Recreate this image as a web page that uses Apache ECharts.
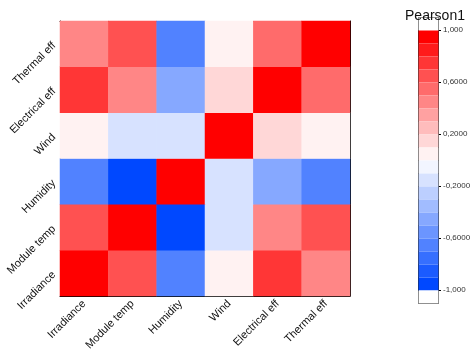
<!DOCTYPE html>
<html>
<head>
<meta charset="utf-8">
<script src="https://cdn.jsdelivr.net/npm/echarts@6/dist/echarts.min.js"></script>
<style>
  html, body { margin: 0; padding: 0; background: #fff; }
  #chart { width: 474px; height: 353px; }
</style>
</head>
<body>
<div id="chart"></div>
<script>
// variables, bottom to top on y and left to right on x
const vars = ['Irradiance', 'Module temp', 'Humidity', 'Wind', 'Electrical eff', 'Thermal eff']

// correlation rows, same order as vars
const rIrradiance = [1.00, 0.65, -0.65, 0.08, 0.78, 0.45]
const rModuleTemp = [0.65, 1.00, -0.95, -0.15, 0.45, 0.65]
const rHumidity = [-0.65, -0.95, 1.00, -0.15, -0.45, -0.65]
const rWind = [0.08, -0.15, -0.15, 1.00, 0.15, 0.03]
const rElecEff = [0.78, 0.45, -0.45, 0.15, 1.00, 0.55]
const rThermEff = [0.45, 0.65, -0.65, 0.03, 0.55, 1.00]

const rows = [rIrradiance, rModuleTemp, rHumidity, rWind, rElecEff, rThermEff]

// colour bar tick labels, bottom to top
const barLabels = ['-1,000', '-0,6000', '-0,2000', '0,2000', '0,6000', '1,000']

const cells = []
rows.forEach((row, yi) => {
  row.forEach((v, xi) => cells.push([xi, yi, v]))
})

// stepped red-white-blue scale, 20 bins of 0.1
function lerp(a, b, t) {
  return a.map((c, i) => Math.round(c + (b[i] - c) * t))
}
const blue = [0, 72, 255]
const white = [255, 255, 255]
const red = [255, 0, 0]
const pieces = [{ lt: -1, color: '#fff' }]
for (let i = 0; i < 20; i++) {
  const t = i / 19
  const c = t < 0.5 ? lerp(blue, white, t * 2) : lerp(white, red, (t - 0.5) * 2)
  const lo = Math.round((-1 + i * 0.1) * 10) / 10
  const p = { gte: lo, color: 'rgb(' + c.join(',') + ')' }
  if (i === 19) p.lte = 1
  else p.lt = Math.round((lo + 0.1) * 10) / 10
  pieces.push(p)
}
pieces.push({ gt: 1, color: '#fff' })

const font = 'Arial, "Liberation Sans", sans-serif'

const chart = echarts.init(document.getElementById('chart'))
chart.setOption({
  animation: false,
  title: {
    text: 'Pearson1',
    left: 430,
    top: 4,
    textAlign: 'center',
    textStyle: { fontFamily: font, fontSize: 14, fontWeight: 'normal', color: '#111' }
  },
  grid: [
    { left: 60, top: 21, width: 290, height: 277 },
    { left: 438, top: 30, width: 1, height: 260 }
  ],
  xAxis: [
    {
      type: 'category',
      data: vars,
      gridIndex: 0,
      axisLine: { lineStyle: { color: '#000', width: 1 } },
      axisTick: { alignWithLabel: true, length: 4, lineStyle: { color: '#000' } },
      axisLabel: { rotate: 45, margin: 6, fontFamily: font, fontSize: 11, color: '#111' },
      splitLine: { show: false }
    },
    {
      type: 'category',
      data: vars,
      gridIndex: 0,
      position: 'top',
      axisLine: { lineStyle: { color: '#000', width: 1 } },
      axisTick: { show: false },
      axisLabel: { show: false }
    },
    {
      type: 'value',
      gridIndex: 1,
      show: false
    }
  ],
  yAxis: [
    {
      type: 'category',
      data: vars,
      gridIndex: 0,
      axisLine: { lineStyle: { color: '#000', width: 1 } },
      axisTick: { alignWithLabel: true, length: 4, lineStyle: { color: '#000' } },
      axisLabel: { rotate: 45, margin: 6, fontFamily: font, fontSize: 11, color: '#111' },
      splitLine: { show: false }
    },
    {
      type: 'category',
      data: vars,
      gridIndex: 0,
      position: 'right',
      axisLine: { lineStyle: { color: '#000', width: 1 } },
      axisTick: { show: false },
      axisLabel: { show: false }
    },
    {
      type: 'category',
      data: barLabels,
      gridIndex: 1,
      position: 'left',
      boundaryGap: false,
      axisLine: { show: false },
      axisTick: { inside: true, length: 3, lineStyle: { color: '#000' } },
      axisLabel: { inside: true, margin: 5, fontFamily: font, fontSize: 8, color: '#333' }
    }
  ],
  visualMap: {
    type: 'piecewise',
    pieces: pieces,
    seriesIndex: 0,
    orient: 'vertical',
    left: 418,
    top: 17,
    itemWidth: 20,
    itemHeight: 13,
    itemGap: 0,
    itemSymbol: 'path://M0,0H20V13H0Z',
    showLabel: false,
    selectedMode: false,
    hoverLink: false,
    padding: 0,
    borderColor: '#222',
    borderWidth: 1
  },
  series: [
    {
      type: 'heatmap',
      xAxisIndex: 0,
      yAxisIndex: 0,
      data: cells,
      itemStyle: { borderWidth: 0 },
      emphasis: { disabled: true }
    }
  ]
})
</script>
</body>
</html>
